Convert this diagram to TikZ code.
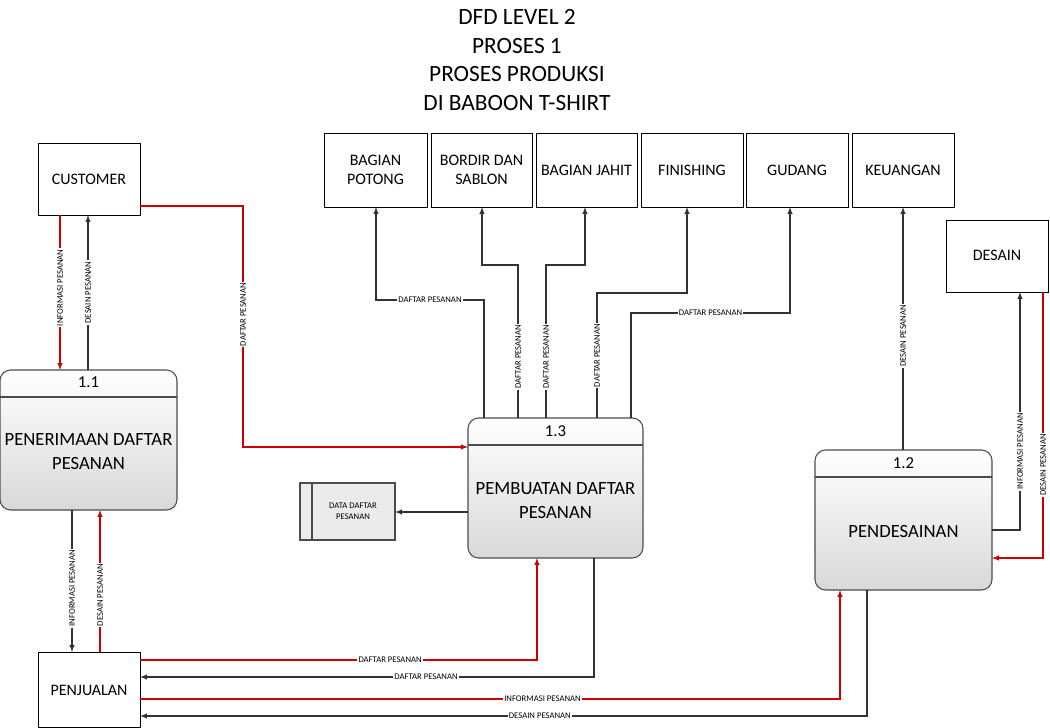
\documentclass[tikz,border=0pt]{standalone}
\usepackage{fontspec}
\setmainfont{Carlito}
\begin{document}
\begin{tikzpicture}[x=0.75pt,y=-0.75pt,
 ent/.style={draw,thick,minimum width=0pt,font=\fontsize{12}{14}\selectfont,align=center,inner sep=0pt},
 lab/.style={fill=white,inner sep=1pt,font=\fontsize{6.5}{7}\selectfont},
 vlab/.style={lab,rotate=90},
 rd/.style={draw=red!80!black,thick,-latex},
 dk/.style={draw=black!80,thick,-latex},
 proc/.style={draw=black!70,thick,rounded corners=8pt,top color=white,bottom color=black!15}]
\useasboundingbox (0,0) rectangle (1050,728);
% title
\node[font=\fontsize{17.5}{21.5}\selectfont,align=center] (title) at (517,60) {DFD LEVEL 2\\PROSES 1\\PROSES PRODUKSI\\DI BABOON T-SHIRT};
% entities
\draw (38,143) rectangle (140,215); \node[ent,draw=none] (cust) at (89,179) {CUSTOMER};
\draw (324,133) rectangle (427,207); \node[ent,draw=none] (pot) at (375.5,170) {BAGIAN\\POTONG};
\draw (431,133) rectangle (532,207); \node[ent,draw=none] (bor) at (481.5,170) {BORDIR DAN\\SABLON};
\draw (536,133) rectangle (637,207); \node[ent,draw=none] (jah) at (586.5,170) {BAGIAN JAHIT};
\draw (641,133) rectangle (743,207); \node[ent,draw=none] (fin) at (692,170) {FINISHING};
\draw (746,133) rectangle (848,207); \node[ent,draw=none] (gud) at (797,170) {GUDANG};
\draw (852,133) rectangle (954,207); \node[ent,draw=none] (keu) at (903,170) {KEUANGAN};
\draw (946,220) rectangle (1048,292); \node[ent,draw=none] (des) at (997,255) {DESAIN};
\draw (38,652) rectangle (140,727); \node[ent,draw=none] (pen) at (89,690) {PENJUALAN};
% processes
\draw[proc] (0,370) rectangle (177,510); \draw[black!70,thick] (0,397)--(177,397);
\node[font=\fontsize{12.5}{14}\selectfont] (p11h) at (88.5,382) {1.1};
\node[font=\fontsize{14}{18}\selectfont,align=center] (p11) at (88.5,452) {PENERIMAAN DAFTAR\\PESANAN};
\draw[proc] (468,418) rectangle (643,558); \draw[black!70,thick] (468,445)--(643,445);
\node[font=\fontsize{12.5}{14}\selectfont] (p13h) at (555.5,431) {1.3};
\node[font=\fontsize{14}{18}\selectfont,align=center] (p13) at (555.5,501) {PEMBUATAN DAFTAR\\PESANAN};
\draw[proc] (815,450) rectangle (992,590); \draw[black!70,thick] (815,477)--(992,477);
\node[font=\fontsize{12.5}{14}\selectfont] (p12h) at (903.5,463) {1.2};
\node[font=\fontsize{14}{18}\selectfont] (p12) at (903.5,532) {PENDESAINAN};
% data store
\draw[black!70,thick,fill=black!8] (300,483) rectangle (395,540); \draw[black!70,thick] (312,483)--(312,540);
\node[font=\fontsize{6.5}{8}\selectfont,align=center] (ds) at (353,511) {DATA DAFTAR\\PESANAN};
% flows
\draw[rd] (60,215)--(60,370) node[vlab,pos=0.47]{INFORMASI PESANAN};
\draw[dk] (88,370)--(88,215) node[vlab,pos=0.5]{DESAIN PESANAN};
\draw[rd] (140,206)--(243,206)--(243,447) node[vlab,pos=0.45]{DAFTAR PESANAN} --(468,447);
\draw[dk] (484,418)--(484,300)--(376,300) node[lab,pos=0.5]{DAFTAR PESANAN}--(376,207);
\draw[dk] (518,418)--(518,265) node[vlab,pos=0.4]{DAFTAR PESANAN}--(482,265)--(482,207);
\draw[dk] (546,418)--(546,265) node[vlab,pos=0.4]{DAFTAR PESANAN}--(585,265)--(585,207);
\draw[dk] (597,418)--(597,293) node[vlab,pos=0.5]{DAFTAR PESANAN}--(687,293)--(687,207);
\draw[dk] (631,418)--(631,313)--(790,313) node[lab,pos=0.5]{DAFTAR PESANAN}--(790,207);
\draw[dk] (903,450)--(903,207) node[vlab,pos=0.47]{DESAIN PESANAN};
\draw[dk] (992,530)--(1020,530)--(1020,292) node[vlab,pos=0.33]{INFORMASI PESANAN};
\draw[rd] (1043,292)--(1043,558) node[vlab,pos=0.65]{DESAIN PESANAN}--(992,558);
\draw[dk] (468,512)--(395,512);
\draw[dk] (72,510)--(72,652) node[vlab,pos=0.55]{INFORMASI PESANAN};
\draw[rd] (100,652)--(100,510) node[vlab,pos=0.4]{DESAIN PESANAN};
\draw[rd] (140,660)--(537,660) node[lab,pos=0.63]{DAFTAR PESANAN}--(537,558);
\draw[dk] (594,558)--(594,677)--(140,677) node[lab,pos=0.37]{DAFTAR PESANAN};
\draw[rd] (140,699)--(840,699) node[lab,pos=0.575]{INFORMASI PESANAN}--(840,590);
\draw[dk] (867,590)--(867,716)--(140,716) node[lab,pos=0.45]{DESAIN PESANAN};
\end{tikzpicture}
\end{document}
